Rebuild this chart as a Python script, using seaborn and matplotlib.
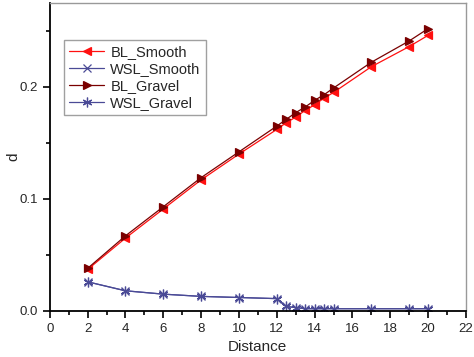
import matplotlib
matplotlib.use("Agg")
import matplotlib.pyplot as plt
from matplotlib.ticker import MultipleLocator
import seaborn as sns

sns.set_style("white")
plt.rcParams['font.family'] = ['Liberation Sans', 'DejaVu Sans']

distance = [2, 4, 6, 8, 10, 12, 12.5, 13, 13.5, 14, 14.5, 15, 17, 19, 20]
bl_smooth = [0.037, 0.065, 0.091, 0.117, 0.140, 0.162, 0.168, 0.173, 0.179,
             0.184, 0.190, 0.195, 0.218, 0.236, 0.246]
bl_gravel = [0.038, 0.067, 0.093, 0.119, 0.142, 0.165, 0.171, 0.177, 0.182,
             0.188, 0.193, 0.199, 0.222, 0.241, 0.252]
wsl_smooth = [0.026, 0.018, 0.015, 0.013, 0.012, 0.011, 0.004, 0.003, 0.002,
              0.002, 0.002, 0.002, 0.002, 0.002, 0.002]
wsl_gravel = [0.026, 0.018, 0.015, 0.013, 0.012, 0.011, 0.004, 0.003, 0.002,
              0.002, 0.002, 0.002, 0.002, 0.002, 0.002]

fig = plt.figure(figsize=(4.74, 3.57), dpi=100)
ax = fig.add_axes([0.105, 0.129, 0.878, 0.863])

series = [
    ("BL_Smooth", bl_smooth, "#ff1010", "<", 6),
    ("WSL_Smooth", wsl_smooth, "#4a4a96", "x", 5.5),
    ("BL_Gravel", bl_gravel, "#7a0000", ">", 6),
    ("WSL_Gravel", wsl_gravel, "#4a4a96", (6, 2, 0), 7),
]
for name, vals, col, mk, ms in series:
    sns.lineplot(x=distance, y=vals, ax=ax, color=col, marker=mk,
                 markersize=ms, markeredgecolor=col, markerfacecolor=col,
                 markeredgewidth=0.9, linewidth=0.9, label=name)

ax.set_xlim(0, 22)
ax.set_ylim(0, 0.275)
ax.xaxis.set_major_locator(MultipleLocator(2))
ax.xaxis.set_minor_locator(MultipleLocator(1))
ax.yaxis.set_major_locator(MultipleLocator(0.1))
ax.yaxis.set_minor_locator(MultipleLocator(0.05))
ax.tick_params(which='both', direction='out', bottom=True, left=True,
               top=False, right=False, labelsize=9.5, width=1.2, color='black')
ax.tick_params(which='major', length=5)
ax.tick_params(which='minor', length=3)
for side in ['left', 'bottom']:
    ax.spines[side].set_color('black')
    ax.spines[side].set_linewidth(1.3)
for side in ['top', 'right']:
    ax.spines[side].set_color('#999999')
    ax.spines[side].set_linewidth(1.0)

ax.set_xlabel("Distance", fontsize=11, labelpad=4)
ax.set_ylabel("d", fontsize=11)
ax.yaxis.set_label_coords(-0.07, 0.5)

leg = ax.legend(loc='upper left', bbox_to_anchor=(0.035, 0.88), fontsize=10.5,
                frameon=True, fancybox=False, edgecolor='#888888',
                handlelength=2.4, borderpad=0.35, labelspacing=0.2,
                handletextpad=0.4, borderaxespad=0.0)
leg.get_frame().set_linewidth(1.0)

fig.savefig("out.png", dpi=100)
